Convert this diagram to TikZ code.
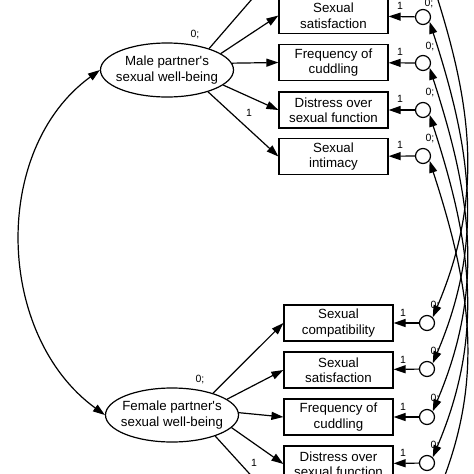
\documentclass[tikz,border=0pt]{standalone}
\usepackage{fontspec}
\setmainfont{Liberation Sans}[Ligatures=TeXOff]
\usetikzlibrary{shapes.geometric, arrows.meta}
\tikzset{
    latent/.style={
        ellipse, draw=black, line width=1.2pt,
        minimum width=133pt, minimum height=54pt,
        inner xsep=-4pt, inner ysep=0pt, fill=white, align=center,
        font=\fontsize{13.3}{15.5}\selectfont
    },
    indicator/.style={
        rectangle, draw=black, line width=1.2pt,
        minimum width=109pt, minimum height=36pt,
        inner sep=1pt, fill=white, align=center,
        font=\fontsize{13.3}{15.5}\selectfont
    },
    errorterm/.style={circle, draw=black, line width=1.2pt, minimum size=15pt, inner sep=0pt, fill=white},
    loading/.style={draw=black, line width=1.2pt, -{Triangle[length=12pt,width=8pt]}},
    covar/.style={draw=black, line width=1.2pt, {Triangle[length=12pt,width=8pt]}-{Triangle[length=12pt,width=8pt]}},
    weight/.style={font=\fontsize{10.5}{12}\selectfont, inner sep=0pt}
}

\begin{document}
\begin{tikzpicture}[x=1pt, y=1pt]
\useasboundingbox (0,0) rectangle (474,-474);
\clip (0,0) rectangle (474,-474);

% Latent variables
\node[latent] (male) at (167,-70) {Male partner's\\sexual well-being};
\node[latent] (female) at (172,-415) {Female partner's\\sexual well-being};
\node[weight] (male0) at (195,-35) {0;};
\node[weight] (female0) at (200,-380) {0;};

% Male partner indicators
\node[indicator] (m1) at (333.5,31.5) {};
\node[indicator] (m2) at (333.5,-15.5) {Sexual\\satisfaction};
\node[indicator] (m3) at (333.5,-62.5) {Frequency of\\cuddling};
\node[indicator] (m4) at (333.5,-110) {Distress over\\sexual function};
\node[indicator] (m5) at (333.5,-156.5) {Sexual\\intimacy};

% Male partner errors
\node[errorterm] (em1) at (423,31) {};
\node[errorterm] (em2) at (423,-17) {};
\node[errorterm] (em3) at (423,-63) {};
\node[errorterm] (em4) at (423,-110) {};
\node[errorterm] (em5) at (423,-156) {};

\node[weight] (wm2) at (400,-6) {1};
\node[weight] (wm3) at (400,-52) {1};
\node[weight] (wm4) at (400,-99) {1};
\node[weight] (wm5) at (400,-145) {1};
\node[weight] (zm2) at (429,-4) {0;};
\node[weight] (zm3) at (430,-47) {0;};
\node[weight] (zm4) at (430,-93) {0;};
\node[weight] (zm5) at (430,-139) {0;};

% Female partner indicators
\node[indicator] (f1) at (338.5,-323) {Sexual\\compatibility};
\node[indicator] (f2) at (338.5,-370) {Sexual\\satisfaction};
\node[indicator] (f3) at (338.5,-417) {Frequency of\\cuddling};
\node[indicator] (f4) at (338.5,-464) {Distress over\\sexual function};
\node[indicator] (f5) at (338.5,-511) {};

% Female partner errors
\node[errorterm] (ef1) at (427,-323) {};
\node[errorterm] (ef2) at (427,-369) {};
\node[errorterm] (ef3) at (427,-417) {};
\node[errorterm] (ef4) at (427,-463) {};
\node[errorterm] (ef5) at (427,-511) {};

\node[weight] (wf1) at (403,-313) {1};
\node[weight] (wf2) at (403,-360) {1};
\node[weight] (wf3) at (403,-407) {1};
\node[weight] (wf4) at (403,-453) {1};
\node[weight] (zf1) at (435,-306) {0;};
\node[weight] (zf2) at (435,-352) {0;};
\node[weight] (zf3) at (435,-399) {0;};
\node[weight] (zf4) at (435,-446) {0;};

% Loadings
\draw[loading] (male.27) -- (m1.west);
\draw[loading] (male.17) -- (m2.west);
\draw[loading] (male.6) -- (m3.west);
\draw[loading] (male.-15) -- (m4.west);
\draw[loading] (male.-28) -- (m5.west);
\node[weight] (lm5) at (249,-113) {1};

\draw[loading] (female.28) -- (f1.west);
\draw[loading] (female.16) -- (f2.west);
\draw[loading] (female.2) -- (f3.west);
\draw[loading] (female.-12) -- (f4.west);
\draw[loading] (female.-26) -- (f5.west);
\node[weight] (lf5) at (254,-463) {1};

% Error paths
\draw[loading] (em1) -- (m1);
\draw[loading] (em2) -- (m2);
\draw[loading] (em3) -- (m3);
\draw[loading] (em4) -- (m4);
\draw[loading] (em5) -- (m5);
\draw[loading] (ef1) -- (f1);
\draw[loading] (ef2) -- (f2);
\draw[loading] (ef3) -- (f3);
\draw[loading] (ef4) -- (f4);
\draw[loading] (ef5) -- (f5);

% Covariances
\draw[covar] (male.west) to[out=216, in=144] (female.west);
\draw[covar] (em1.-36) to[out=-72, in=67] (ef1.45);
\draw[covar] (em2.-36) to[out=-72, in=67] (ef2.45);
\draw[covar] (em3.-36) to[out=-72, in=67] (ef3.45);
\draw[covar] (em4.-36) to[out=-72, in=67] (ef4.45);
\draw[covar] (em5.-36) to[out=-72, in=67] (ef5.45);

\end{tikzpicture}
\end{document}
